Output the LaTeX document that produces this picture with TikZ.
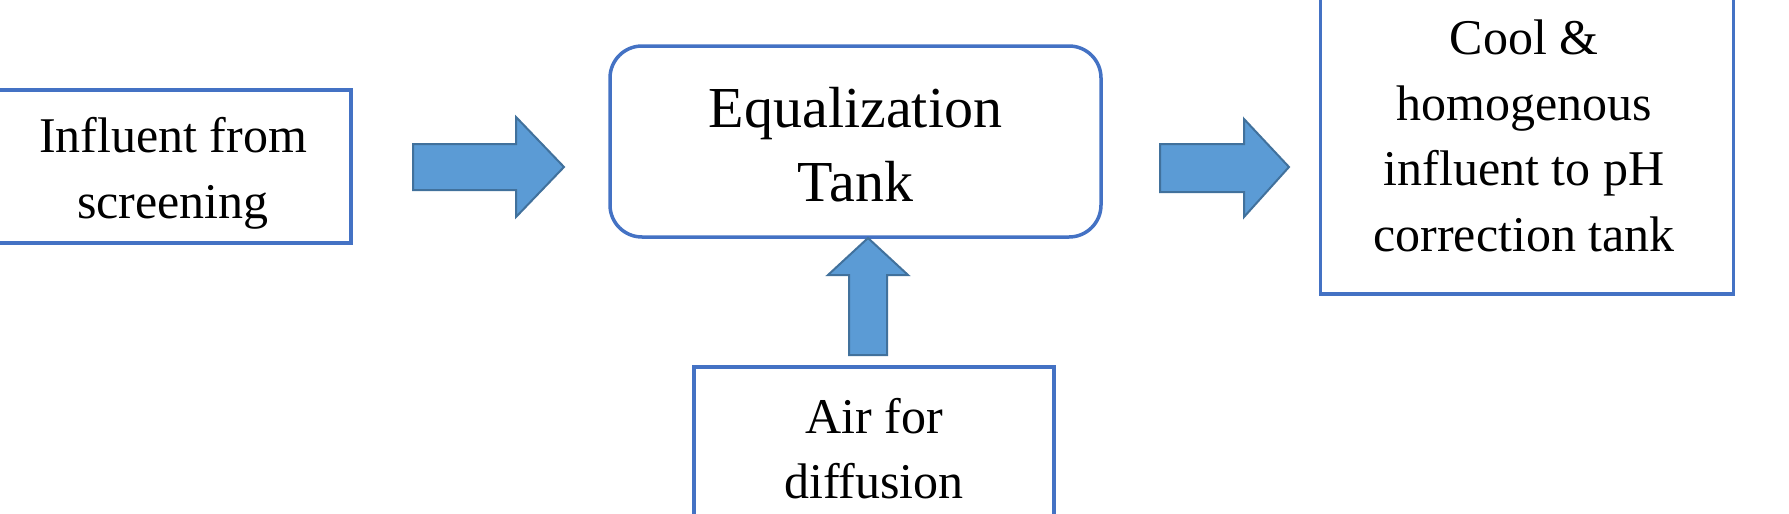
\documentclass[tikz,border=0pt]{standalone}
\usepackage{fontspec}
\setmainfont{Liberation Serif}
\definecolor{boxblue}{HTML}{4472C4}
\definecolor{arrowfill}{HTML}{5B9BD5}
\definecolor{arrowline}{HTML}{41719C}
\tikzset{
  procbox/.style={draw=boxblue, line width=3.5pt, fill=white, inner sep=0pt},
  boxtext/.style={align=center, inner sep=0pt, font=\fontsize{50}{66}\selectfont},
  blockarrow/.style={fill=arrowfill, draw=arrowline, line width=2pt, line join=miter},
}
\begin{document}
\begin{tikzpicture}[x=1pt,y=-1pt]
\useasboundingbox (0,0) rectangle (1789,514);
\clip (0,0) rectangle (1789,514);
\fill[white] (0,0) rectangle (1789,514);

\node[procbox, minimum width=356pt, minimum height=153pt] (src) at (173,166.5) {};
\node[boxtext] (srct) at ([yshift=-7pt]src.center) {Influent from\\screening};

\node[procbox, rounded corners=32pt, minimum width=491pt, minimum height=191pt] (eq) at (855.5,141.5) {};
\node[boxtext, font=\fontsize{58}{74}\selectfont] (eqt) at ([yshift=-3pt]eq.center) {Equalization\\Tank};

\node[procbox, minimum width=413pt, minimum height=300pt] (out) at (1527,144) {};
\node[boxtext, font=\fontsize{50}{65.5}\selectfont] (outt) at ([xshift=-3pt,yshift=8pt]out.center)
  {Cool \&\\homogenous\\influent to pH\\correction tank};

\node[procbox, minimum width=360pt, minimum height=164pt] (air) at (874,449) {};
\node[boxtext, font=\fontsize{50}{65}\selectfont] (airt) at (air.center) {Air for\\diffusion};

% block arrows
\coordinate (a1) at (413,167);
\coordinate (a2) at (1160,167);
\coordinate (a3) at (868,355);
\draw[blockarrow] (a1) ++(0,-23) -- ++(103,0) -- ++(0,-27) -- ++(48,50) -- ++(-48,50)
  -- ++(0,-27) -- ++(-103,0) -- cycle;
\draw[blockarrow] (a2) ++(0,-23) -- ++(84,0) -- ++(0,-25) -- ++(45,48) -- ++(-45,50)
  -- ++(0,-25) -- ++(-84,0) -- cycle;
\draw[blockarrow] (a3) ++(-19,0) -- ++(0,-80) -- ++(-21,0) -- ++(40,-37) -- ++(40,37)
  -- ++(-21,0) -- ++(0,80) -- cycle;
\end{tikzpicture}
\end{document}
